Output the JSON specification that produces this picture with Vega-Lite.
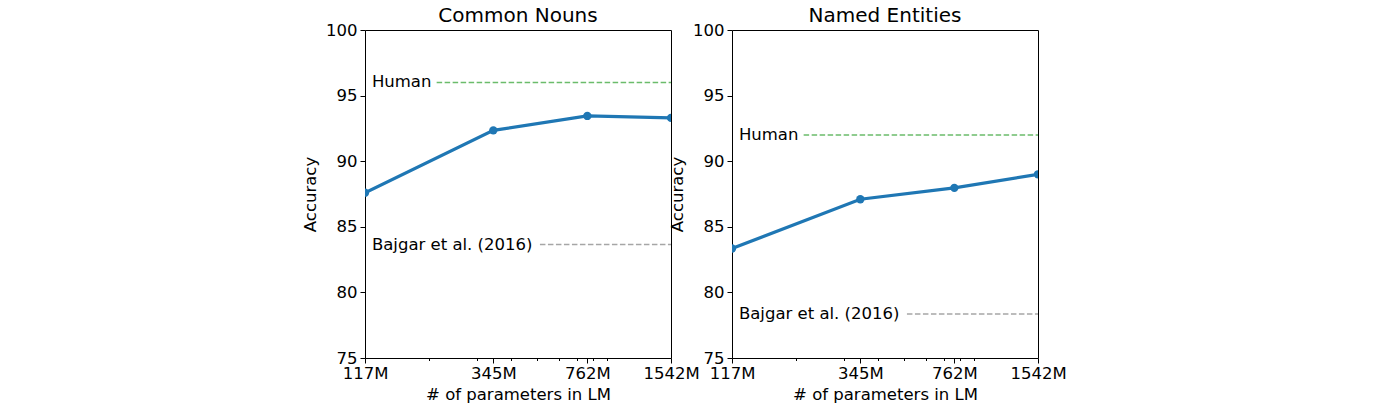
{
  "$schema": "https://vega.github.io/schema/vega-lite/v6.json",
  "padding": {"left": 302, "top": 5, "right": 0, "bottom": 0},
  "background": "white",
  "datasets": {
    "acc": [
      {"panel": "Common Nouns", "params": 117, "accuracy": 87.6},
      {"panel": "Common Nouns", "params": 345, "accuracy": 92.35},
      {"panel": "Common Nouns", "params": 762, "accuracy": 93.45},
      {"panel": "Common Nouns", "params": 1542, "accuracy": 93.3},
      {"panel": "Named Entities", "params": 117, "accuracy": 83.35},
      {"panel": "Named Entities", "params": 345, "accuracy": 87.1},
      {"panel": "Named Entities", "params": 762, "accuracy": 87.97},
      {"panel": "Named Entities", "params": 1542, "accuracy": 89.0}
    ],
    "refs": [
      {"panel": "Common Nouns", "label": "Human", "accuracy": 96.0, "start": 214, "end": 1542},
      {"panel": "Common Nouns", "label": "Bajgar et al. (2016)", "accuracy": 83.65, "start": 511, "end": 1542},
      {"panel": "Named Entities", "label": "Human", "accuracy": 92.0, "start": 214, "end": 1542},
      {"panel": "Named Entities", "label": "Bajgar et al. (2016)", "accuracy": 78.35, "start": 511, "end": 1542}
    ]
  },
  "config": {
    "font": "DejaVu Sans",
    "view": {"stroke": "black", "strokeWidth": 1},
    "title": {"font": "DejaVu Sans", "fontSize": 20, "fontWeight": "normal", "color": "black", "offset": -4},
    "axis": {
      "labelFont": "DejaVu Sans", "titleFont": "DejaVu Sans",
      "labelFontSize": 16.5, "titleFontSize": 16.5, "titleFontWeight": "normal",
      "labelColor": "black", "titleColor": "black", "tickColor": "black",
      "grid": false, "domain": false, "tickSize": 5, "labelPadding": 3
    }
  },
  "bounds": "flush",
  "spacing": 61,
  "hconcat": [
    {
      "title": {"text": "Common Nouns", "fontSize": 20, "offset": -4},
      "width": 306,
      "height": 328,
      "resolve": {"axis": {"x": "independent"}},
      "layer": [
        {
          "data": {"name": "acc"},
          "transform": [{"filter": "datum.panel == 'Common Nouns'"}],
          "mark": {"type": "line", "color": "#1f77b4", "strokeWidth": 3.2, "clip": true},
          "encoding": {
            "x": {"field": "params", "type": "quantitative", "scale": {"type": "log", "domain": [117, 1542], "nice": false},
                  "axis": {"orient": "bottom", "values": [117, 345, 762, 1542], "labelExpr": "datum.value + 'M'", "labelFlush": false, "labelPadding": 2, "title": "# of parameters in LM", "titlePadding": 5}},
            "y": {"field": "accuracy", "type": "quantitative", "title": "Accuracy", "scale": {"domain": [75, 100], "nice": false},
                  "axis": {"values": [75, 80, 85, 90, 95, 100], "titlePadding": 7}}
          }
        },
        {
          "data": {"name": "acc"},
          "transform": [{"filter": "datum.panel == 'Common Nouns'"}],
          "mark": {"type": "point", "filled": true, "color": "#1f77b4", "opacity": 1, "size": 70, "clip": true},
          "encoding": {
            "x": {"field": "params", "type": "quantitative", "axis": null},
            "y": {"field": "accuracy", "type": "quantitative", "title": "Accuracy"}
          }
        },
        {
          "data": {"name": "refs"},
          "transform": [{"filter": "datum.panel == 'Common Nouns'"}],
          "mark": {"type": "rule", "strokeWidth": 1.5, "strokeDash": [5.5, 2.5]},
          "encoding": {
            "x": {"field": "start", "type": "quantitative",
                  "axis": {"orient": "bottom", "values": [200, 300, 400, 500, 600, 700, 800, 900], "labels": false, "tickSize": 2.5, "title": null}},
            "x2": {"field": "end"},
            "y": {"field": "accuracy", "type": "quantitative", "title": "Accuracy"},
            "color": {"field": "label", "type": "nominal", "legend": null,
                      "scale": {"domain": ["Human", "Bajgar et al. (2016)"], "range": ["#6bbc6b", "#a6a6a6"]}}
          }
        },
        {
          "data": {"name": "refs"},
          "transform": [{"filter": "datum.panel == 'Common Nouns'"}],
          "mark": {"type": "text", "align": "left", "baseline": "middle", "fontSize": 16.5, "color": "black"},
          "encoding": {
            "x": {"datum": 124, "type": "quantitative", "axis": null},
            "y": {"field": "accuracy", "type": "quantitative", "title": "Accuracy"},
            "text": {"field": "label"}
          }
        }
      ]
    },
    {
      "title": {"text": "Named Entities", "fontSize": 20, "offset": -4},
      "width": 306,
      "height": 328,
      "resolve": {"axis": {"x": "independent"}},
      "layer": [
        {
          "data": {"name": "acc"},
          "transform": [{"filter": "datum.panel == 'Named Entities'"}],
          "mark": {"type": "line", "color": "#1f77b4", "strokeWidth": 3.2, "clip": true},
          "encoding": {
            "x": {"field": "params", "type": "quantitative", "scale": {"type": "log", "domain": [117, 1542], "nice": false},
                  "axis": {"orient": "bottom", "values": [117, 345, 762, 1542], "labelExpr": "datum.value + 'M'", "labelFlush": false, "labelPadding": 2, "title": "# of parameters in LM", "titlePadding": 5}},
            "y": {"field": "accuracy", "type": "quantitative", "title": "Accuracy", "scale": {"domain": [75, 100], "nice": false},
                  "axis": {"values": [75, 80, 85, 90, 95, 100], "titlePadding": 7}}
          }
        },
        {
          "data": {"name": "acc"},
          "transform": [{"filter": "datum.panel == 'Named Entities'"}],
          "mark": {"type": "point", "filled": true, "color": "#1f77b4", "opacity": 1, "size": 70, "clip": true},
          "encoding": {
            "x": {"field": "params", "type": "quantitative", "axis": null},
            "y": {"field": "accuracy", "type": "quantitative", "title": "Accuracy"}
          }
        },
        {
          "data": {"name": "refs"},
          "transform": [{"filter": "datum.panel == 'Named Entities'"}],
          "mark": {"type": "rule", "strokeWidth": 1.5, "strokeDash": [5.5, 2.5]},
          "encoding": {
            "x": {"field": "start", "type": "quantitative",
                  "axis": {"orient": "bottom", "values": [200, 300, 400, 500, 600, 700, 800, 900], "labels": false, "tickSize": 2.5, "title": null}},
            "x2": {"field": "end"},
            "y": {"field": "accuracy", "type": "quantitative", "title": "Accuracy"},
            "color": {"field": "label", "type": "nominal", "legend": null,
                      "scale": {"domain": ["Human", "Bajgar et al. (2016)"], "range": ["#6bbc6b", "#a6a6a6"]}}
          }
        },
        {
          "data": {"name": "refs"},
          "transform": [{"filter": "datum.panel == 'Named Entities'"}],
          "mark": {"type": "text", "align": "left", "baseline": "middle", "fontSize": 16.5, "color": "black"},
          "encoding": {
            "x": {"datum": 124, "type": "quantitative", "axis": null},
            "y": {"field": "accuracy", "type": "quantitative", "title": "Accuracy"},
            "text": {"field": "label"}
          }
        }
      ]
    }
  ]
}
